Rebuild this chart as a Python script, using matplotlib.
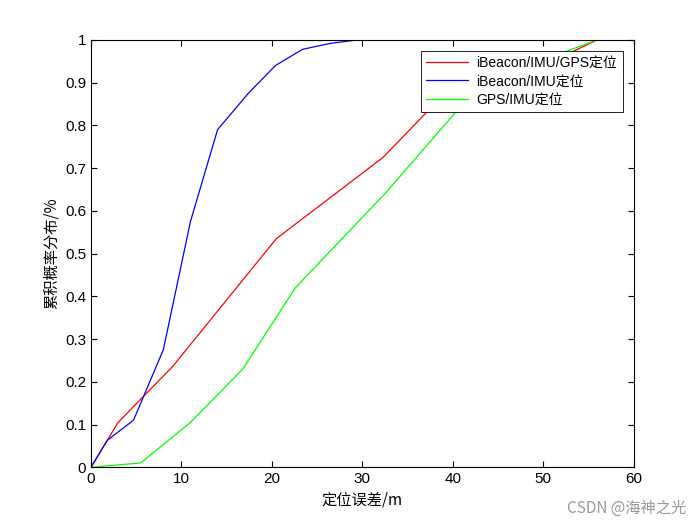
import matplotlib
matplotlib.use("Agg")
import matplotlib.pyplot as plt

plt.rcParams['font.family'] = ['Liberation Sans', 'Noto Sans CJK SC', 'DejaVu Sans']

red_x = [0, 3, 9, 20.5, 32.3, 38, 45, 52, 56]
red_y = [0, 0.105, 0.235, 0.535, 0.725, 0.85, 0.91, 0.96, 1.0]
blue_x = [0, 1.8, 4.7, 8, 11, 14, 17.4, 20.4, 23.4, 26.5, 29.5]
blue_y = [0, 0.063, 0.11, 0.275, 0.575, 0.79, 0.875, 0.94, 0.978, 0.992, 1.0]
green_x = [0, 5.5, 11, 16.8, 22.6, 32.5, 40.3, 47, 56]
green_y = [0, 0.01, 0.105, 0.23, 0.42, 0.64, 0.83, 0.93, 1.0]
labels = ['iBeacon/IMU/GPS定位', 'iBeacon/IMU定位', 'GPS/IMU定位']

fig = plt.figure(figsize=(7, 5.25), dpi=100)
ax = fig.add_axes([0.13, 0.11, 0.775, 0.814])
ax.plot(red_x, red_y, color='#ff0000', lw=0.9, label=labels[0])
ax.plot(blue_x, blue_y, color='#0000ff', lw=0.9, label=labels[1])
ax.plot(green_x, green_y, color='#00ff00', lw=0.9, label=labels[2])
ax.set_xlim(0, 60)
ax.set_ylim(0, 1)
ax.set_xticks(range(0, 61, 10))
ax.set_yticks([i / 10 for i in range(11)])
ax.set_yticklabels(['0', '0.1', '0.2', '0.3', '0.4', '0.5', '0.6', '0.7', '0.8', '0.9', '1'])
ax.tick_params(direction='in', labelsize=11, top=True, right=True, length=4)
ax.set_xlabel('定位误差/m', fontsize=11, family=['Noto Sans CJK SC'])
ax.set_ylabel('累积概率分布/%', fontsize=11, family=['Noto Sans CJK SC'])
leg = ax.legend(loc='upper right', bbox_to_anchor=(0.98, 0.975), fancybox=False,
                edgecolor='black', framealpha=1, borderaxespad=0.0, handlelength=3,
                handletextpad=0.6, labelspacing=0.3,
                prop={'family': ['Liberation Sans', 'Noto Sans CJK SC'], 'size': 10})
leg.get_frame().set_linewidth(0.6)
fig.text(0.98, 0.015, 'CSDN @海神之光', ha='right', va='bottom', fontsize=11,
         color='#999999', family=['Noto Sans CJK SC'])
fig.savefig('out.png', dpi=100)
